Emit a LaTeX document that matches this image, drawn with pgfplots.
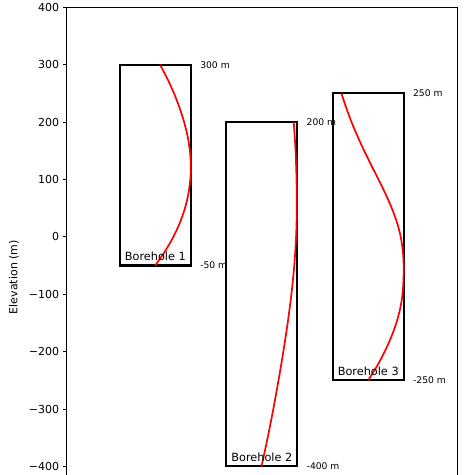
\documentclass[border=0pt]{standalone}
\usepackage{fontspec}
\setmainfont{DejaVu Sans}
\usepackage{pgfplots}
\pgfplotsset{compat=1.18}
\begin{document}
\begin{tikzpicture}
\begin{axis}[name=ax, scale only axis, width=390.6pt, height=468pt,
  xmin=0.1662, xmax=3.834, ymin=-415, ymax=400,
  axis x line*=top, axis y line*=box,
  x axis line style={-}, y axis line style={-},
  axis line style={black, line width=0.9pt},
  xtick=\empty, ytick={-400,-300,...,400},
  yticklabels={−400,−300,−200,−100,0,100,200,300,400},
  ytick pos=left, tick align=outside, major tick length=4pt,
  every tick/.style={black, line width=0.9pt},
  yticklabel style={font=\fontsize{11}{13}\selectfont},
  ylabel={Elevation (m)},
  ylabel style={font=\fontsize{11}{13}\selectfont, at={(axis description cs:-0.135,0.423)}, anchor=center},
  clip=false]
% borehole boxes
\addplot[black, line width=2.2pt, line join=miter] coordinates {(0.667,-50) (1.333,-50) (1.333,300) (0.667,300)} --cycle;
\addplot[black, line width=2.2pt, line join=miter] coordinates {(1.667,-400) (2.333,-400) (2.333,200) (1.667,200)} --cycle;
\addplot[black, line width=2.2pt, line join=miter] coordinates {(2.667,-250) (3.333,-250) (3.333,250) (2.667,250)} --cycle;
% trajectories
\addplot[red, line width=1.7pt, smooth] table {
x y
1.044 300
1.114 275
1.175 250
1.227 225
1.270 200
1.303 175
1.324 150
1.333 125
1.328 100
1.310 75
1.278 50
1.231 25
1.169 0
1.091 -25
0.998 -50
};
\addplot[red, line width=1.7pt, smooth] table {
x y
2.300 200
2.317 150
2.326 100
2.329 50
2.322 0
2.305 -50
2.278 -100
2.243 -150
2.202 -200
2.157 -250
2.108 -300
2.055 -350
1.997 -400
};
\addplot[red, line width=1.7pt, smooth] table {
x y
2.748 250
2.793 225
2.843 200
2.900 175
2.962 150
3.028 125
3.096 100
3.162 75
3.221 50
3.270 25
3.305 0
3.325 -25
3.333 -50
3.331 -75
3.322 -100
3.300 -125
3.264 -150
3.215 -175
3.155 -200
3.083 -225
3.000 -250
};
% labels
\node[anchor=base, yshift=4.6pt, font=\fontsize{11.3}{13}\selectfont] at (axis cs:1,-50) {Borehole 1};
\node[anchor=base, yshift=4.6pt, font=\fontsize{11.3}{13}\selectfont] at (axis cs:2,-400) {Borehole 2};
\node[anchor=base, yshift=4.6pt, font=\fontsize{11.3}{13}\selectfont] at (axis cs:3,-250) {Borehole 3};
\node[anchor=west, inner sep=0pt, font=\fontsize{9.2}{11}\selectfont] at (axis cs:1.42,300) {300 m};
\node[anchor=west, inner sep=0pt, font=\fontsize{9.2}{11}\selectfont] at (axis cs:1.42,-50) {-50 m};
\node[anchor=west, inner sep=0pt, font=\fontsize{9.2}{11}\selectfont] at (axis cs:2.42,200) {200 m};
\node[anchor=west, inner sep=0pt, font=\fontsize{9.2}{11}\selectfont] at (axis cs:2.42,-400) {-400 m};
\node[anchor=west, inner sep=0pt, font=\fontsize{9.2}{11}\selectfont] at (axis cs:3.42,250) {250 m};
\node[anchor=west, inner sep=0pt, font=\fontsize{9.2}{11}\selectfont] at (axis cs:3.42,-250) {-250 m};
\end{axis}
\pgfresetboundingbox
\path[use as bounding box] ([xshift=-66.7pt]ax.south west) rectangle ([xshift=16.7pt,yshift=7.3pt]ax.north east);
\end{tikzpicture}
\end{document}
